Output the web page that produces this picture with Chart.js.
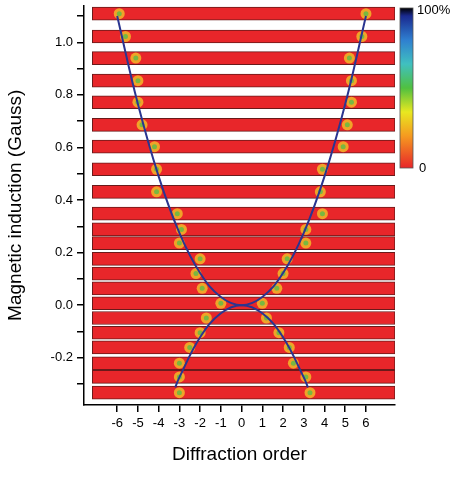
<!DOCTYPE html>
<html><head><meta charset="utf-8">
<script src="https://cdn.jsdelivr.net/npm/chart.js@4"></script>
<style>body{margin:0;background:#fff}#c{width:474px;height:488px}</style>
</head><body>
<div id="c"><canvas id="chart"></canvas></div>
<script>
const stripB = [1.109, 1.022, 0.94, 0.854, 0.772, 0.686, 0.603, 0.517, 0.431,
  0.348, 0.288, 0.236, 0.176, 0.12, 0.064, 0.007, -0.049, -0.105, -0.161, -0.221, -0.273, -0.333];
const leftSpotX = [-5.9, -5.6, -5.1, -5.0, -5.0, -4.8, -4.2, -4.1, -4.1,
  -3.1, -2.9, -3.0, -2.0, -2.2, -1.9, -1.0, -1.7, -2.0, -2.5, -3.0, -3.0, -3.0];
const rightSpotX = [6.0, 5.8, 5.2, 5.3, 5.3, 5.1, 4.9, 3.9, 3.8,
  3.9, 3.1, 3.1, 2.2, 2.0, 1.7, 1.0, 1.2, 1.8, 2.3, 2.5, 3.1, 3.3];
const upperCurveX = [-6, -5, -4, -3, -2, -1, 0, 1, 2, 3, 4, 5, 6];
const upperCurveB = [1.10, 0.765, 0.49, 0.275, 0.122, 0.031, 0, 0.031, 0.122, 0.275, 0.49, 0.765, 1.10];
const lowerCurveX = [-3.2, -3, -2, -1, 0, 1, 2, 3, 3.2];
const lowerCurveB = [-0.313, -0.275, -0.122, -0.031, 0, -0.031, -0.122, -0.275, -0.313];
const xTicks = [-6, -5, -4, -3, -2, -1, 0, 1, 2, 3, 4, 5, 6];
const yTicks = [-0.3, -0.2, -0.1, 0, 0.1, 0.2, 0.3, 0.4, 0.5, 0.6, 0.7, 0.8, 0.9, 1.0, 1.1];

const spots = stripB.flatMap((b, i) => [{x: leftSpotX[i], y: b}, {x: rightSpotX[i], y: b}]);

const colorbar = {
  id: 'colorbar',
  afterDraw(chart) {
    const c = chart.ctx, x = 400, y0 = 8, y1 = 168, w = 13;
    const g = c.createLinearGradient(0, y0, 0, y1);
    g.addColorStop(0, '#000000'); g.addColorStop(0.05, '#1a2a90');
    g.addColorStop(0.2, '#2f7fd0'); g.addColorStop(0.35, '#40c0c0');
    g.addColorStop(0.5, '#50c040'); g.addColorStop(0.65, '#e8e820');
    g.addColorStop(0.8, '#f59a20'); g.addColorStop(1, '#e8262a');
    c.save();
    c.fillStyle = g; c.fillRect(x, y0, w, y1 - y0);
    c.strokeStyle = '#555'; c.lineWidth = 0.8; c.strokeRect(x, y0, w, y1 - y0);
    c.fillStyle = '#000'; c.font = '13px "Liberation Sans", Arial';
    c.textBaseline = 'middle';
    c.fillText('100%', x + w + 4, y0 + 2);
    c.fillText('0', x + w + 6, y1);
    c.restore();
  }
};

new Chart(document.getElementById('chart'), {
  type: 'bar',
  data: {
    datasets: [
      { type: 'line', data: upperCurveX.map((x, i) => ({x, y: upperCurveB[i]})),
        borderColor: '#2a3590', borderWidth: 2, pointRadius: 0, tension: 0.4, order: 0 },
      { type: 'line', data: lowerCurveX.map((x, i) => ({x, y: lowerCurveB[i]})),
        borderColor: '#2a3590', borderWidth: 2, pointRadius: 0, tension: 0.4, order: 0 },
      { type: 'scatter', data: spots, pointRadius: 2.5, pointBackgroundColor: 'rgba(90,190,70,0.8)',
        pointBorderWidth: 0, order: 1 },
      { type: 'scatter', data: spots, pointRadius: 5.5, pointBackgroundColor: 'rgba(245,215,40,0.7)',
        pointBorderWidth: 0, order: 2 },
      { type: 'bar', indexAxis: 'y', data: stripB.map(b => ({y: b, x: [-7.2, 7.4]})),
        backgroundColor: '#e8262a', borderColor: '#6a1a1a', borderWidth: 1,
        borderSkipped: false, barThickness: 13, order: 3 }
    ]
  },
  options: {
    responsive: true, maintainAspectRatio: false, animation: false,
    layout: { padding: { right: 79, top: 0, bottom: 18 } },
    plugins: { legend: { display: false }, tooltip: { enabled: false } },
    scales: {
      x: {
        type: 'linear', min: -7.6, max: 7.4, offset: false,
        afterBuildTicks: s => { s.ticks = xTicks.map(v => ({value: v})); },
        afterFit: s => { s.height = 65; s.paddingLeft = 0; s.paddingRight = 0; },
        grid: { drawOnChartArea: false, color: '#000', tickLength: 7, lineWidth: 1.5, offset: false },
        border: { color: '#000', width: 1.5 },
        ticks: { color: '#000', font: { size: 13, family: '"Liberation Sans", Arial' }, padding: 4 },
        title: { display: true, text: 'Diffraction order', color: '#000',
          font: { size: 19, family: '"Liberation Sans", Arial' }, padding: { top: 6 } }
      },
      y: {
        type: 'linear', min: -0.38, max: 1.14, offset: false,
        afterBuildTicks: s => { s.ticks = yTicks.map(v => ({value: v})); },
        afterFit: s => { s.width = 84; s.paddingTop = 0; s.paddingBottom = 0; },
        grid: { drawOnChartArea: false, color: '#000', tickLength: 7, lineWidth: 1.5, offset: false },
        border: { color: '#000', width: 1.5 },
        ticks: { color: '#000', font: { size: 13, family: '"Liberation Sans", Arial' }, padding: 4,
          callback: v => Math.round(v * 10) % 2 === 0 ? v.toFixed(1) : '' },
        title: { display: true, text: 'Magnetic induction (Gauss)', color: '#000',
          font: { size: 19, family: '"Liberation Sans", Arial' }, padding: { bottom: 4 } }
      }
    }
  },
  plugins: [colorbar]
});
</script>
</body></html>
